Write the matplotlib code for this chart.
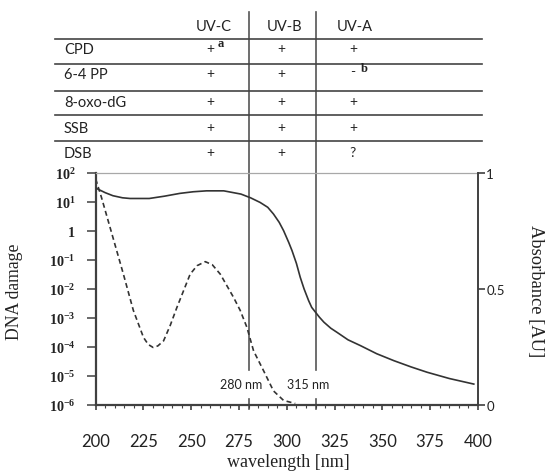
import matplotlib
matplotlib.use("Agg")
from matplotlib import pyplot as plt
from matplotlib.lines import Line2D
from matplotlib.ticker import MultipleLocator

plt.rcParams['mathtext.fontset'] = 'custom'
plt.rcParams['mathtext.rm'] = 'Liberation Serif'
plt.rcParams['mathtext.bf'] = 'Liberation Serif:bold'

# table content
bands = ["UV-C", "UV-B", "UV-A"]
lesions = ["CPD", "6-4 PP", "8-oxo-dG", "SSB", "DSB"]
cells = [["+", "+", "+"],
         ["+", "+", "-"],
         ["+", "+", "+"],
         ["+", "+", "+"],
         ["+", "+", "?"]]
notes = {(0, 0): "a", (1, 2): "b"}

# band limits (nm)
band_edges = [280, 315]

# DNA damage (dashed, left log axis)
wl_dna = [200, 203, 209, 214.5, 219.7, 225, 227.5, 230, 232.5, 235.5, 239, 242.5,
          249.4, 253, 257.3, 261, 265.2, 272.1, 275.6, 279.1, 282.6, 287.8,
          293, 298.3, 304.4]
dna = [62, 14.5, 0.60, 0.032, 1.8e-3, 2.1e-4, 1.2e-4, 9.5e-5, 1.07e-4, 1.6e-4,
       5.5e-4, 2.3e-3, 3.2e-2, 6.3e-2, 8.7e-2, 6.8e-2, 3.2e-2, 5.1e-3, 1.8e-3,
       4.7e-4, 7.2e-5, 1.5e-5, 3.0e-6, 1.4e-6, 1.1e-6]

# absorbance (solid, right linear axis)
wl_abs = [200, 205, 209, 214, 218, 228, 236, 244, 251, 258, 267, 276, 281, 286,
          290, 293, 296, 298.3, 301, 302.7, 305, 307, 309, 311.4, 313, 315, 317,
          319.4, 323, 326.3, 332, 338.5, 347, 356, 365, 373.4, 385, 397.8]
absorb = [0.935, 0.915, 0.902, 0.893, 0.890, 0.890, 0.900, 0.912, 0.919, 0.923,
          0.923, 0.909, 0.893, 0.873, 0.852, 0.823, 0.787, 0.751, 0.70, 0.665,
          0.61, 0.55, 0.50, 0.449, 0.42, 0.399, 0.378, 0.356, 0.33, 0.312, 0.28,
          0.255, 0.22, 0.19, 0.163, 0.14, 0.113, 0.089]

x_ticks = [200, 225, 250, 275, 300, 325, 350, 375, 400]
y_ticks = [1e-6, 1e-5, 1e-4, 1e-3, 1e-2, 1e-1, 1, 1e1, 1e2]
y_labels = [r'$\mathbf{10^{-6}}$', r'$\mathbf{10^{-5}}$', r'$\mathbf{10^{-4}}$',
            r'$\mathbf{10^{-3}}$', r'$\mathbf{10^{-2}}$', r'$\mathbf{10^{-1}}$',
            r'$\mathbf{1}$', r'$\mathbf{10^{1}}$', r'$\mathbf{10^{2}}$']
y2_ticks = [0, 0.5, 1]
y2_labels = ["0", "0.5", "1"]

W, H = 550, 477
sans = "Lato"
serif = "Liberation Serif"
ink = "#333333"
txt = "#222222"

fig = plt.figure(figsize=(W / 100, H / 100), dpi=100)
ax_l, ax_r, ax_t, ax_b = 95.7, 478, 174, 405.7
ax = fig.add_axes([ax_l / W, 1 - ax_b / H, (ax_r - ax_l) / W, (ax_b - ax_t) / H])
ax.set_yscale('log')
ax.set_xlim(200, 400)
ax.set_ylim(1e-6, 1e2)

dash_line, = ax.plot(wl_dna, dna, color=ink, lw=1.2)
dash_line.set_dashes((3, 2))

ax2 = ax.twinx()
ax2.set_ylim(0, 1)
ax2.plot(wl_abs, absorb, color=ink, lw=1.2)

# spines
for s in ['top', 'left', 'bottom']:
    ax2.spines[s].set_visible(False)
ax.spines['right'].set_visible(False)
ax.spines['top'].set_color('#a8a8a8')
ax.spines['top'].set_linewidth(0.9)
for s in ['left', 'bottom']:
    ax.spines[s].set_color('#404040')
    ax.spines[s].set_linewidth(1.6)
ax2.spines['right'].set_color('#404040')
ax2.spines['right'].set_linewidth(1.4)

# x ticks
ax.set_xticks(x_ticks)
ax.set_xticklabels([str(t) for t in x_ticks], fontfamily=sans, fontsize=12, color=txt)
ax.xaxis.set_minor_locator(MultipleLocator(5))
ax.tick_params(axis='x', which='major', direction='out', length=3.5, width=1.2,
               color='#404040', pad=17)
ax.tick_params(axis='x', which='minor', direction='out', length=1.8, width=0.8,
               color='#404040')

# left y ticks
ax.set_yticks(y_ticks)
ax.set_yticklabels(y_labels, fontsize=10.2, color=txt)
ax.yaxis.set_minor_locator(plt.NullLocator())
ax.tick_params(axis='y', which='major', direction='out', length=6.5, width=1.1,
               color='#404040', pad=8)

# right y ticks
ax2.set_yticks(y2_ticks)
ax2.set_yticklabels(y2_labels, fontfamily=sans, fontsize=9.5, color=txt)
ax2.tick_params(axis='y', direction='out', length=5, width=1.2, color='#404040', pad=1)

fig.text(288.5 / W, 1 - 463 / H, "wavelength [nm]", fontfamily=serif, fontsize=13,
         color=txt, ha='center', va='center')
fig.text(15 / W, 1 - 292 / H, "DNA damage", fontfamily=serif, fontsize=12.7,
         color=txt, ha='center', va='center', rotation=90)
fig.text(535 / W, 1 - 291 / H, "Absorbance [AU]", fontfamily=serif, fontsize=13.3,
         color=txt, ha='center', va='center', rotation=270)

# band edge lines running up through the table
span = ax_b - ax_t
for edge in band_edges:
    ax.axvline(edge, ymin=(ax_b - 371) / span, ymax=(ax_b - 13) / span,
               color='#555555', lw=1.2, clip_on=False, zorder=1)
    ax.axvline(edge, ymin=-0.02, ymax=0.025, color='#555555', lw=1.2,
               clip_on=False, zorder=1)
    ax.annotate("%d nm" % edge, xy=(edge, (ax_b - 385) / span),
                xycoords=ax.get_xaxis_transform(), xytext=(-5, 0),
                textcoords='offset points', fontfamily=sans, fontsize=9,
                color=txt, ha='center', va='center')

# table
for y in [40, 65, 92, 116, 142]:
    fig.add_artist(Line2D([55 / W, 482 / W], [1 - y / H, 1 - y / H], color='#444444', lw=1.2))

head_x = [214, 285, 355]
cell_x = [210, 281, 353]
head_y = 27
row_y = [50, 75, 103, 129, 154]
for bx, band in zip(head_x, bands):
    fig.text(bx / W, 1 - head_y / H, band, fontfamily=sans, fontsize=10.5,
             color=txt, ha='center', va='center')
for i, lesion in enumerate(lesions):
    fig.text(64 / W, 1 - row_y[i] / H, lesion, fontfamily=sans, fontsize=10.5,
             color=txt, ha='left', va='center')
    for j, val in enumerate(cells[i]):
        yy = row_y[i] - 3 if val == "-" else row_y[i] - 1
        fig.text(cell_x[j] / W, 1 - yy / H, val, fontfamily=sans, fontsize=10,
                 color=txt, ha='center', va='center')
        if (i, j) in notes:
            fig.text((cell_x[j] + 11) / W, 1 - (row_y[i] - 6) / H, notes[(i, j)],
                     fontfamily=serif, fontweight='bold', fontsize=9,
                     color=txt, ha='center', va='center')

fig.savefig("out.png", dpi=100)
